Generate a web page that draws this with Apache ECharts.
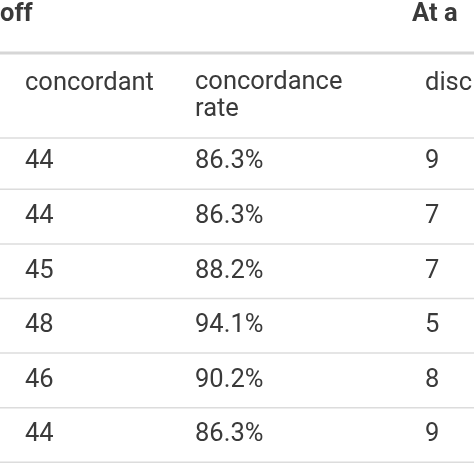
<!DOCTYPE html>
<html><head><meta charset="utf-8">
<script src="https://cdn.jsdelivr.net/npm/echarts@6/dist/echarts.min.js"></script>
<style>html,body{margin:0;padding:0;background:#fff}#c{width:474px;height:474px}</style>
</head><body><div id="c"></div>
<script>
const groupHeaders = ['off', 'At a'];
const columnHeaders = ['concordant', 'concordance\nrate', 'disc'];
const concordant = [44, 44, 45, 48, 46, 44];
const concordanceRate = ['86.3%', '86.3%', '88.2%', '94.1%', '90.2%', '86.3%'];
const discordant = [9, 7, 7, 5, 8, 9];

const colX = [25, 195, 425];
const groupX = [0, 412];
const rowY0 = 162, rowStep = 54.6;

const rows = concordant.map((c, i) => [i, c, concordanceRate[i], discordant[i]]);
const chart = echarts.init(document.getElementById('c'));
const font = 'Roboto, "Noto Sans", sans-serif';
const FS = 25.5;
function txt(x, y, s, bold, lh) {
  return {type: 'text', style: {x, y, text: String(s), fill: '#3a3a3a', font: (bold ? 'bold ' : '') + FS + 'px ' + font, textVerticalAlign: 'middle', lineHeight: lh || 28}};
}
function line(y, w, c) {
  return {type: 'line', shape: {x1: 0, y1: y, x2: 474, y2: y}, style: {stroke: c || '#dcdcdc', lineWidth: w || 1.5}};
}
chart.setOption({
  animation: false,
  grid: {left: 0, right: 0, top: 0, bottom: 0},
  xAxis: {type: 'value', min: 0, max: 474, show: false},
  yAxis: {type: 'value', min: 0, max: 474, inverse: true, show: false},
  series: [{
    type: 'custom',
    data: rows,
    renderItem: function (params, api) {
      const i = api.value(0);
      const y = rowY0 + i * rowStep;
      const children = [
        txt(api.coord([colX[0], y])[0], api.coord([0, y])[1], concordant[i]),
        txt(api.coord([colX[1], y])[0], api.coord([0, y])[1], concordanceRate[i]),
        txt(api.coord([colX[2], y])[0], api.coord([0, y])[1], discordant[i]),
        line(api.coord([0, y + rowStep / 2])[1])
      ];
      if (i === 0) {
        children.push(txt(groupX[0], 15, groupHeaders[0], true));
        children.push(txt(groupX[1], 15, groupHeaders[1], true));
        children.push(line(53, 3, '#d6d6d6'));
        children.push(txt(colX[0], 84, columnHeaders[0]));
        children.push({type: 'text', style: {x: colX[1], y: 69, text: columnHeaders[1], fill: '#3a3a3a', font: FS + 'px ' + font, lineHeight: 27, textVerticalAlign: 'top'}});
        children.push(txt(colX[2], 84, columnHeaders[2]));
        children.push(line(138));
      }
      return {type: 'group', children};
    }
  }]
});
</script></body></html>
